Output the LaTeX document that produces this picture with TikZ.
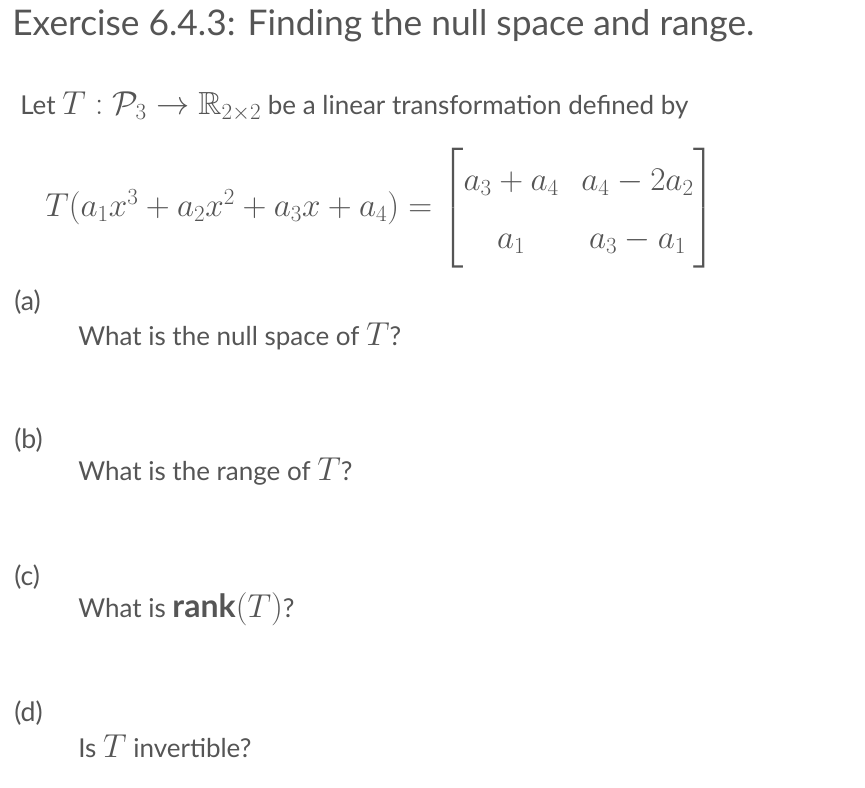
\documentclass[tikz,border=0pt]{standalone}
\usepackage{amsmath,amssymb}
\usepackage{fontspec}
\setmainfont{Lato}
\definecolor{txt}{HTML}{555555}
\newcommand{\mymath}[1]{{\fontsize{24}{28}\selectfont$#1$}}
\begin{document}
\begin{tikzpicture}[x=0.75pt,y=-0.75pt,
  body/.style={anchor=west,inner sep=0pt,text=txt,font=\fontsize{19.5}{22}\selectfont},
  lbl/.style={anchor=west,inner sep=0pt,text=txt,font=\fontsize{20}{24}\selectfont}]
\useasboundingbox[fill=white] (0,0) rectangle (865,788);
\node[anchor=west,inner sep=0pt,text=txt,font=\fontsize{26.5}{30}\selectfont] (title) at (12,26) {Exercise 6.4.3: Finding the null space and range.};
\node[body] (let) at (20,107) {Let \mymath{T:\mathcal{P}_3\rightarrow\mathbb{R}_{2\times 2}} be a linear transformation defined by};
\node[anchor=west,inner sep=0pt,text=txt,font=\fontsize{25}{30}\selectfont] (eq) at (45,208)
 {\renewcommand{\arraystretch}{1.45}$T(a_1x^3+a_2x^2+a_3x+a_4)=\begin{bmatrix} a_3+a_4 & \; a_4-2a_2\\ a_1 & \; a_3-a_1\end{bmatrix}$};
\node[lbl] (a) at (14,302) {(a)};
\node[body] (qa) at (78,336) {What is the null space of \mymath{T}?};
\node[lbl] (b) at (14,440) {(b)};
\node[body] (qb) at (78,472) {What is the range of \mymath{T}?};
\node[lbl] (c) at (14,577) {(c)};
\node[body] (qc) at (78,609) {What is \mymath{\mathbf{rank}(T)}?};
\node[lbl] (d) at (14,713) {(d)};
\node[body] (qd) at (78,746) {Is \mymath{T} invertible?};
\end{tikzpicture}
\end{document}
